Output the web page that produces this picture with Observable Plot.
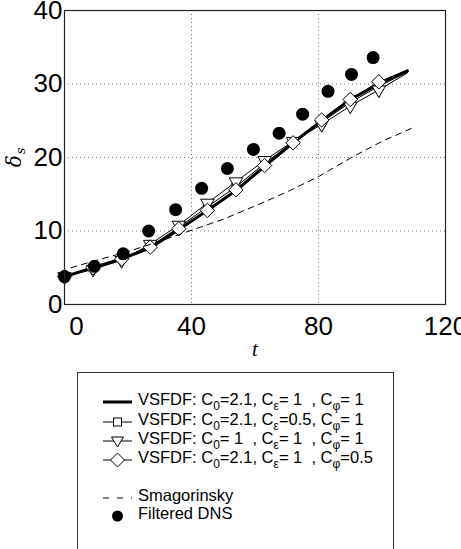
<!DOCTYPE html>
<html><head><meta charset="utf-8">
<script src="https://cdn.jsdelivr.net/npm/d3@7"></script>
<script src="https://cdn.jsdelivr.net/npm/@observablehq/plot@0.6"></script>
<style>
body{margin:0;background:#fff;font-family:"Liberation Sans",Arial,sans-serif;}
#wrap{position:relative;width:461px;height:549px;overflow:hidden;}
#chart{position:absolute;left:0;top:0;}
#legend{position:absolute;left:77px;top:372px;width:317px;height:200px;border:1px solid #333;box-sizing:border-box;}
#legend svg{position:absolute;left:0;top:0;}
.row{position:absolute;left:60px;font-size:16.5px;line-height:18px;white-space:pre;color:#000;}
.row sub{font-size:12px;vertical-align:-5px;line-height:0;}
</style>
</head><body>
<div id="wrap"><div id="chart"></div><div id="legend"></div></div>
<script>
// VSFDF runs (time samples)
const tRun = [0, 9, 18, 27, 36, 45, 54, 63, 72, 81, 90, 99, 108];
const vMain = [3.8, 5.0, 6.2, 7.7, 10.2, 12.8, 15.5, 18.8, 22.0, 25.0, 27.9, 30.0, 31.8];
const vSquare = [3.8, 5.0, 6.3, 7.9, 10.5, 13.3, 16.0, 19.2, 22.1, 24.8, 27.5, 29.7, 31.6];
const vTriangle = [3.8, 4.8, 6.0, 8.2, 10.8, 13.8, 16.7, 19.6, 22.2, 24.5, 27.0, 29.2, 31.5];
const vDiamond = [3.8, 5.0, 6.2, 7.8, 10.3, 12.8, 15.6, 18.9, 22.0, 25.1, 27.9, 30.3, 31.9];
// Smagorinsky
const tSmag = [2, 10, 20, 30, 40, 50, 60, 70, 80, 90, 100, 110];
const vSmag = [5.0, 6.0, 7.2, 8.6, 10.1, 11.6, 13.4, 15.3, 17.4, 19.9, 22.2, 24.1];
// Filtered DNS
const tDNS = [0, 9.4, 18.5, 26.5, 35, 43.2, 51.3, 59.5, 67.6, 75, 83, 90.4, 97.2];
const vDNS = [3.8, 5.2, 6.9, 10.0, 12.9, 15.8, 18.5, 21.1, 23.3, 25.9, 29.0, 31.3, 33.6];
// ticks
const xTicks = [0, 40, 80, 120];
const yTicks = [0, 10, 20, 30, 40];
// legend labels
const legendLabels = [
  'VSFDF: C<sub>0</sub>=2.1, C<sub>ε</sub>= 1  , C<sub>φ</sub>= 1',
  'VSFDF: C<sub>0</sub>=2.1, C<sub>ε</sub>=0.5, C<sub>φ</sub>= 1',
  'VSFDF: C<sub>0</sub>= 1  , C<sub>ε</sub>= 1  , C<sub>φ</sub>= 1',
  'VSFDF: C<sub>0</sub>=2.1, C<sub>ε</sub>= 1  , C<sub>φ</sub>=0.5',
  'Smagorinsky',
  'Filtered DNS'
];

const mk = (ts, vs) => ts.map((t, i) => ({t, v: vs[i]}));
const main = mk(tRun, vMain), sq = mk(tRun, vSquare), tri = mk(tRun, vTriangle), dia = mk(tRun, vDiamond);
const smag = mk(tSmag, vSmag), dns = mk(tDNS, vDNS);
const markersOnly = a => a.slice(0, a.length - 1);
const font = '"Liberation Sans", Arial, sans-serif';

const plot = Plot.plot({
  width: 461, height: 370,
  marginLeft: 64, marginRight: 16, marginTop: 10, marginBottom: 66,
  style: {fontFamily: font, background: "white"},
  x: {domain: [0, 120]},
  y: {domain: [0, 40]},
  marks: [
    Plot.gridX([40, 80], {stroke: "#777", strokeOpacity: 1, strokeDasharray: "1,3"}),
    Plot.gridY([10, 20, 30], {stroke: "#777", strokeOpacity: 1, strokeDasharray: "1,3"}),
    Plot.axisY(yTicks, {tickSize: 0, tickPadding: 2, fontSize: 26, label: null}),
    Plot.axisX([40, 80, 120], {tickSize: 0, tickPadding: 12, fontSize: 26, label: null}),
    Plot.axisX([0], {tickSize: 0, tickPadding: 12, fontSize: 26, label: null, dx: 12}),
    Plot.line(main, {x: "t", y: "v", stroke: "black", strokeWidth: 3}),
    Plot.line(sq, {x: "t", y: "v", stroke: "black", strokeWidth: 1}),
    Plot.dot(markersOnly(sq), {x: "t", y: "v", symbol: "square", r: 4.5, fill: "white", stroke: "black", strokeWidth: 1}),
    Plot.line(tri, {x: "t", y: "v", stroke: "black", strokeWidth: 1}),
    Plot.dot(markersOnly(tri), {x: "t", y: "v", symbol: "triangle", rotate: 180, r: 5, fill: "white", stroke: "black", strokeWidth: 1}),
    Plot.line(dia, {x: "t", y: "v", stroke: "black", strokeWidth: 1}),
    Plot.dot(markersOnly(dia), {x: "t", y: "v", symbol: "diamond2", r: 6.5, fill: "white", stroke: "black", strokeWidth: 1}),
    Plot.line(smag, {x: "t", y: "v", stroke: "black", strokeWidth: 1, strokeDasharray: "6,5"}),
    Plot.dot(dns, {x: "t", y: "v", r: 6.5, fill: "black", stroke: "none"}),
    Plot.frame({stroke: "#222", strokeWidth: 1.2}),
    Plot.text(["t"], {frameAnchor: "bottom", dy: 51, fontSize: 21, fontStyle: "italic", fontFamily: "Liberation Serif"}),
    Plot.text(["δ"], {frameAnchor: "left", dx: -50, rotate: -90, textAnchor: "middle", fontSize: 20, fontStyle: "italic", fontFamily: "DejaVu Serif", className: "ylab"})
  ]
});
document.getElementById("chart").appendChild(plot);
// add subscript s to the y label
d3.select(plot).selectAll(".ylab text").each(function() {
  d3.select(this).append("tspan").attr("font-size", 13).attr("dy", "0.3em").attr("dx", "1").text("s");
});

// legend
const leg = document.getElementById("legend");
const rowsY = [29, 49, 68, 87, 125, 143]; // centers relative to box top
const svg = d3.create("svg").attr("width", 317).attr("height", 200);
const x0 = 25, x1 = 54, xc = 39.5;
svg.append("line").attr("x1", x0).attr("x2", x1).attr("y1", rowsY[0]).attr("y2", rowsY[0]).attr("stroke", "black").attr("stroke-width", 3);
[1, 2, 3].forEach(i => svg.append("line").attr("x1", x0).attr("x2", x1).attr("y1", rowsY[i]).attr("y2", rowsY[i]).attr("stroke", "black").attr("stroke-width", 1));
svg.append("rect").attr("x", xc - 4).attr("y", rowsY[1] - 4).attr("width", 8).attr("height", 8).attr("fill", "white").attr("stroke", "black");
svg.append("path").attr("d", `M${xc - 6},${rowsY[2] - 4}L${xc + 6},${rowsY[2] - 4}L${xc},${rowsY[2] + 6}Z`).attr("fill", "white").attr("stroke", "black");
svg.append("path").attr("d", `M${xc},${rowsY[3] - 7}L${xc + 7},${rowsY[3]}L${xc},${rowsY[3] + 7}L${xc - 7},${rowsY[3]}Z`).attr("fill", "white").attr("stroke", "black");
svg.append("line").attr("x1", x0).attr("x2", x1).attr("y1", rowsY[4]).attr("y2", rowsY[4]).attr("stroke", "black").attr("stroke-width", 1).attr("stroke-dasharray", "6,8");
svg.append("circle").attr("cx", xc).attr("cy", rowsY[5]).attr("r", 5.5).attr("fill", "black");
leg.appendChild(svg.node());
legendLabels.forEach((lab, i) => {
  const d = document.createElement("div");
  d.className = "row";
  d.style.top = (rowsY[i] - 12) + "px";
  d.innerHTML = lab;
  leg.appendChild(d);
});
</script>
</body></html>
